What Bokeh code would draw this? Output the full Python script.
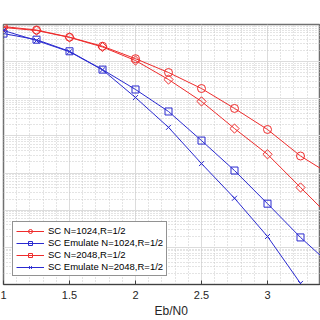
import math
from bokeh.plotting import figure
from bokeh.models import Range1d, Title, FixedTicker
from bokeh.embed import file_html
from bokeh.resources import INLINE

# Eb/N0 values (x) and BER for each curve
ebn0 = [1.0, 1.25, 1.5, 1.75, 2.0, 2.25, 2.5, 2.75, 3.0, 3.25, 3.5]
sc_1024 = [0.88, 0.71, 0.455, 0.26, 0.12, 0.051, 0.0189, 0.0055, 0.00149, 2.88e-4, 8.1e-5]
sc_emu_1024 = [0.57, 0.39, 0.19, 0.061, 0.0178, 4.55e-3, 7.5e-4, 1.17e-4, 1.5e-5, 1.85e-6, 2.9e-7]
sc_2048 = [0.83, 0.69, 0.45, 0.248, 0.107, 0.033, 0.0085, 1.58e-3, 3.2e-4, 4.1e-5, 5.3e-6]
sc_emu_2048 = [0.69, 0.37, 0.185, 0.06, 0.0108, 1.7e-3, 1.8e-4, 2.1e-5, 1.96e-6, 1.07e-7]

labels = ["SC N=1024,R=1/2", "SC Emulate N=1024,R=1/2",
          "SC N=2048,R=1/2", "SC Emulate N=2048,R=1/2"]
x_ticks = [1, 1.5, 2, 2.5, 3, 3.5]
x_tick_labels = ["1", "1.5", "2", "2.5", "3", "3.5"]

RED = "#ee2c2c"
BLUE = "#2a2ad0"
FONT = "Liberation Sans"

p = figure(frame_width=317, frame_height=260, y_axis_type="log",
           x_range=Range1d(1, 3.4015), y_range=Range1d(1e-7, 1),
           output_backend="svg", toolbar_location=None,
           min_border_left=3, min_border_right=0, min_border_top=24,
           min_border_bottom=0)

series = [
    (ebn0, sc_1024, RED, "circle", 8, 0),
    (ebn0, sc_emu_1024, BLUE, "square", 7, 0),
    (ebn0, sc_2048, RED, "square", 6.5, math.pi / 4),
    (ebn0[:len(sc_emu_2048)], sc_emu_2048, BLUE, "x", 7, 0),
]
for (xs, ys, col, mk, sz, ang), lab in zip(series, labels):
    p.line(xs, ys, line_color=col, line_width=1, legend_label=lab)
    p.scatter(xs, ys, marker=mk, size=sz, angle=ang, line_color=col,
              fill_color=None, line_width=1, legend_label=lab)

# axes
p.yaxis.visible = False
xa = p.xaxis[0]
minor_x = [round(1 + 0.1 * i, 2) for i in range(0, 26)]
xa.ticker = FixedTicker(ticks=x_ticks, minor_ticks=minor_x)
xa.major_label_overrides = {t: s for t, s in zip([1, 1.5, 2, 2.5, 3, 3.5], x_tick_labels)}
xa.major_tick_in = 4
xa.major_tick_out = 0
xa.minor_tick_in = 0
xa.minor_tick_out = 0
xa.axis_line_color = "#404040"
xa.major_tick_line_color = "#404040"
xa.major_label_text_font = FONT
xa.major_label_text_font_size = "11px"
xa.major_label_text_color = "#262626"
xa.major_label_standoff = 6

yticks = [10.0 ** e for e in range(-7, 1)]
yminor = [k * 10.0 ** e for e in range(-7, 0) for k in range(2, 10)]
p.yaxis[0].ticker = FixedTicker(ticks=yticks, minor_ticks=yminor)

p.xgrid.grid_line_color = "#dcdcdc"
p.ygrid.grid_line_color = "#dcdcdc"
p.xgrid.minor_grid_line_color = "#c8c8c8"
p.ygrid.minor_grid_line_color = "#c8c8c8"
p.xgrid.minor_grid_line_dash = "1 2"
p.ygrid.minor_grid_line_dash = "1 2"

p.outline_line_color = "#707070"
p.outline_line_width = 1.5

p.add_layout(Title(text="Eb/N0", align="left", offset=151, text_font=FONT,
                   text_font_size="12px", text_font_style="normal",
                   text_color="#262626", standoff=0), "below")

lg = p.legend[0]
lg.location = (9, 8)
lg.border_line_color = "#262626"
lg.border_line_width = 1
lg.background_fill_color = "white"
lg.background_fill_alpha = 1
lg.label_text_font = FONT
lg.label_text_font_size = "9.5px"
lg.label_text_color = "#000000"
lg.glyph_width = 28
lg.glyph_height = 10
lg.label_height = 10
lg.spacing = 1
lg.padding = 3
lg.margin = 0
lg.label_standoff = 4

open("out.html", "w").write(file_html(p, INLINE))
